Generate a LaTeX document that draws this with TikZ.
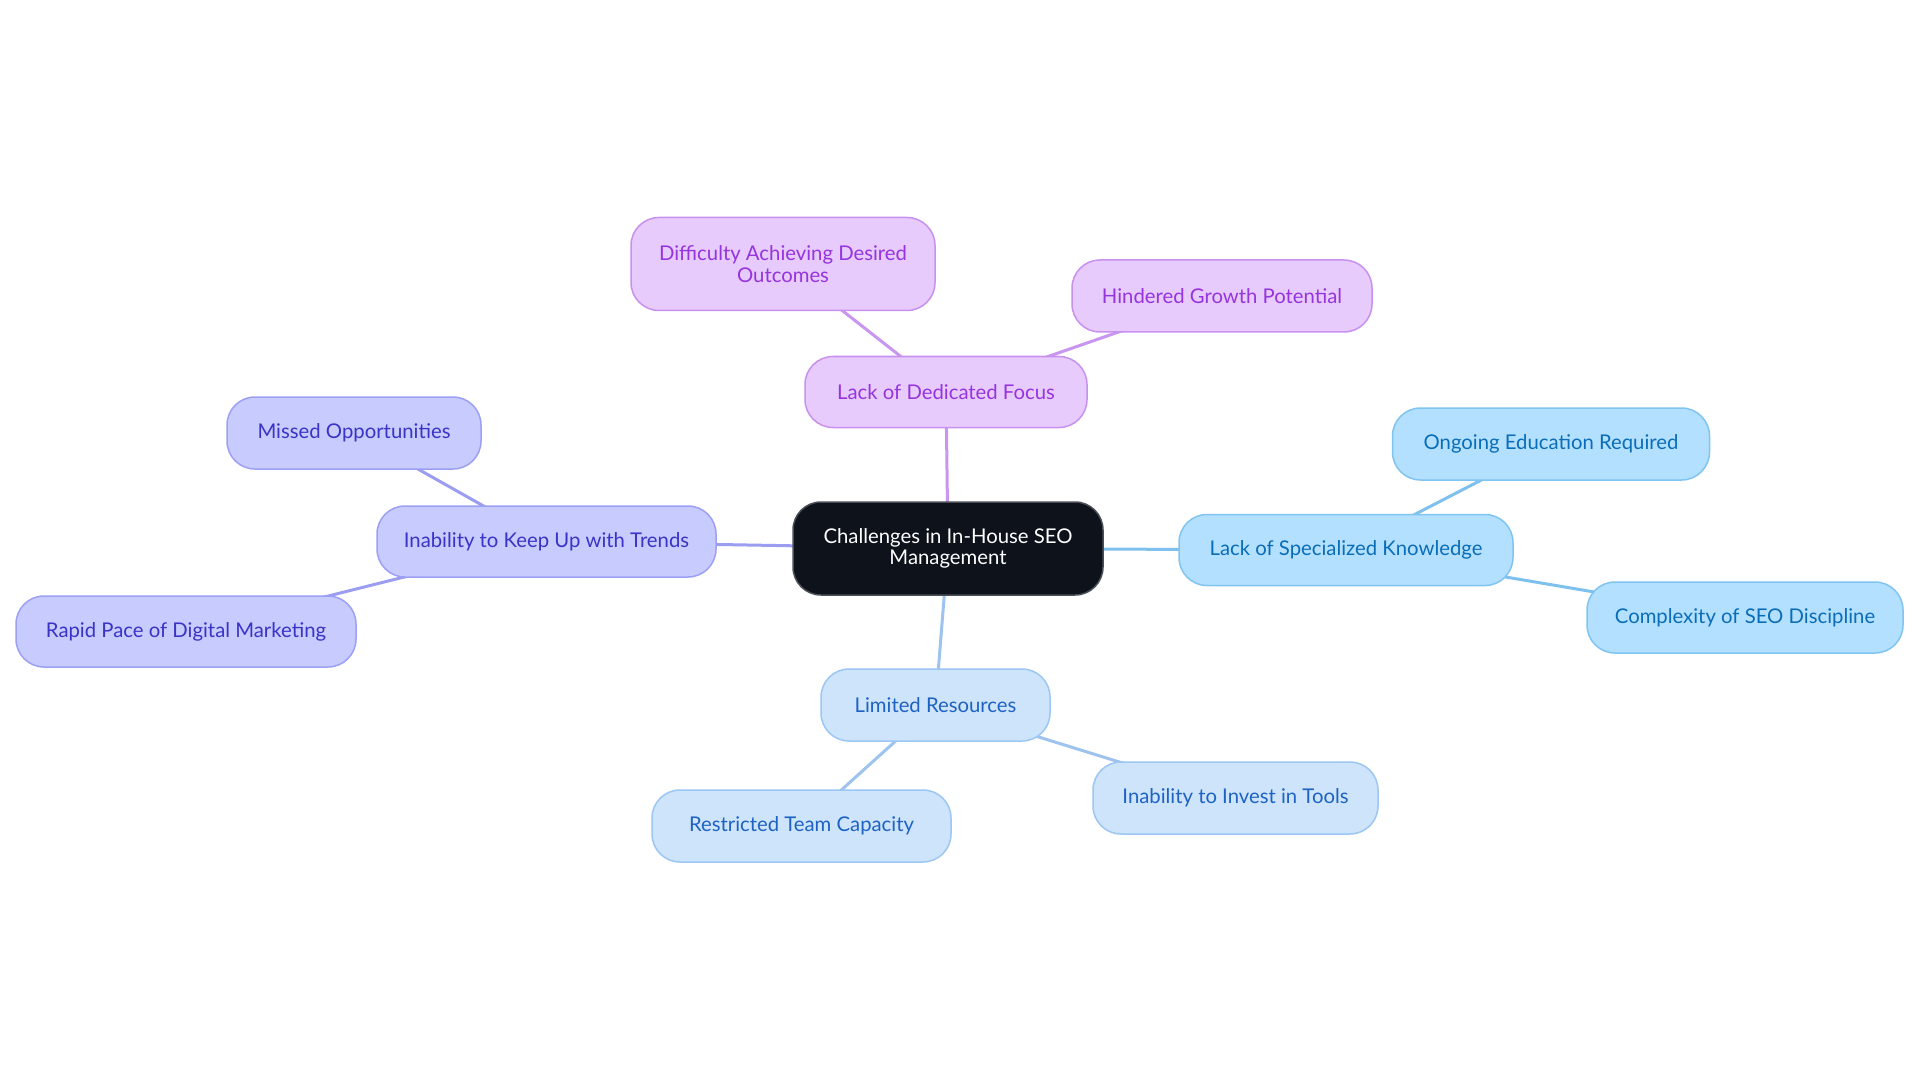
\documentclass[tikz,border=0pt]{standalone}
\usepackage{fontspec}
\setmainfont{Lato}
\usetikzlibrary{backgrounds}
\definecolor{pFill}{HTML}{E7CBFC}
\definecolor{pDraw}{HTML}{C891F0}
\definecolor{pText}{HTML}{9634DE}
\definecolor{pEdge}{HTML}{C896F0}
\definecolor{bFill}{HTML}{B3E0FE}
\definecolor{bDraw}{HTML}{80C4F2}
\definecolor{bText}{HTML}{0A6DB8}
\definecolor{bEdge}{HTML}{7EC0EE}
\definecolor{lFill}{HTML}{CDE4FB}
\definecolor{lDraw}{HTML}{9CC6F3}
\definecolor{lText}{HTML}{1E62C4}
\definecolor{lEdge}{HTML}{9DC3EE}
\definecolor{iFill}{HTML}{C8CBFE}
\definecolor{iDraw}{HTML}{9CA0F5}
\definecolor{iText}{HTML}{3A33C6}
\definecolor{iEdge}{HTML}{9B9DF0}
\definecolor{cFill}{HTML}{0D121B}
\definecolor{cDraw}{HTML}{4A4F57}
\begin{document}
\begin{tikzpicture}[x=1pt,y=-1pt,
  box/.style={rounded corners=28pt, line width=1.5pt, align=center, inner sep=0pt,
    font=\fontsize{20.3}{21.5}\selectfont},
  pnode/.style={box, fill=pFill, draw=pDraw, text=pText},
  bnode/.style={box, fill=bFill, draw=bDraw, text=bText},
  lnode/.style={box, fill=lFill, draw=lDraw, text=lText},
  inode/.style={box, fill=iFill, draw=iDraw, text=iText},
  cnode/.style={box, fill=cFill, draw=cDraw, text=white},
  edge/.style={line width=3pt}]
\useasboundingbox (0,0) rectangle (1920,1083);

\node[cnode, minimum width=310pt, minimum height=93pt] (center) at (948,548.5) {Challenges in In-House SEO\\Management};

\node[pnode, minimum width=282pt, minimum height=71pt] (focus) at (946,392) {Lack of Dedicated Focus};
\node[pnode, minimum width=304pt, minimum height=93pt] (difficulty) at (783,264) {Difficulty Achieving Desired\\Outcomes};
\node[pnode, minimum width=300pt, minimum height=72pt] (hindered) at (1222,296) {Hindered Growth Potential};

\node[bnode, minimum width=334pt, minimum height=71pt] (knowledge) at (1346,550) {Lack of Specialized Knowledge};
\node[bnode, minimum width=317pt, minimum height=72pt] (ongoing) at (1551,444) {Ongoing Education Required};
\node[bnode, minimum width=316pt, minimum height=71pt] (complexity) at (1745,617.5) {Complexity of SEO Discipline};

\node[lnode, minimum width=229pt, minimum height=72pt] (limited) at (935.5,705) {Limited Resources};
\node[lnode, minimum width=299pt, minimum height=72pt] (restricted) at (801.5,826) {Restricted Team Capacity};
\node[lnode, minimum width=285pt, minimum height=72pt] (invest) at (1235.5,798) {Inability to Invest in Tools};

\node[inode, minimum width=339pt, minimum height=71pt] (trends) at (546.5,541.5) {Inability to Keep Up with Trends};
\node[inode, minimum width=254pt, minimum height=72pt] (missed) at (354,433) {Missed Opportunities};
\node[inode, minimum width=340pt, minimum height=71pt] (rapid) at (186,631.5) {Rapid Pace of Digital Marketing};

\begin{scope}[on background layer]
\fill[white] (0,0) rectangle (1920,1083);
\draw[edge, pEdge] (center.center) -- (focus.center);
\draw[edge, pEdge] (focus.center) -- (difficulty.center);
\draw[edge, pEdge] (focus.center) -- (hindered.center);
\draw[edge, bEdge] (center.center) -- (knowledge.center);
\draw[edge, bEdge] (knowledge.center) -- (ongoing.center);
\draw[edge, bEdge] (knowledge.center) -- (complexity.center);
\draw[edge, lEdge] (center.center) -- (limited.center);
\draw[edge, lEdge] (limited.center) -- (restricted.center);
\draw[edge, lEdge] (limited.center) -- (invest.center);
\draw[edge, iEdge] (center.center) -- (trends.center);
\draw[edge, iEdge] (trends.center) -- (missed.center);
\draw[edge, iEdge] (trends.center) -- (rapid.center);
\end{scope}
\end{tikzpicture}
\end{document}
